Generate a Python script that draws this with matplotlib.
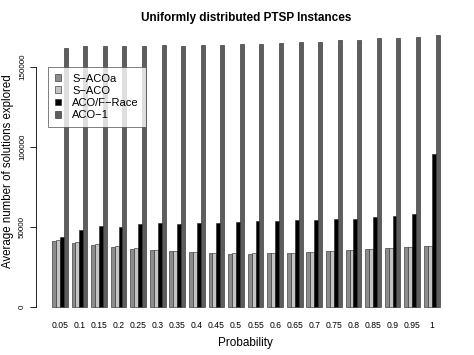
import numpy as np
import matplotlib
matplotlib.use("Agg")
import matplotlib.pyplot as plt
from matplotlib.patches import Patch

plt.rcParams["font.family"] = ["Liberation Sans", "DejaVu Sans"]

# Probability levels (x categories)
probs = ["0.05", "0.1", "0.15", "0.2", "0.25", "0.3", "0.35", "0.4", "0.45", "0.5",
         "0.55", "0.6", "0.65", "0.7", "0.75", "0.8", "0.85", "0.9", "0.95", "1"]

s_acoa = [41200, 40000, 38700, 37500, 36200, 35400, 34600, 34000, 33300, 33100,
          33100, 33300, 33500, 34200, 34800, 35400, 36000, 36700, 37300, 37900]
s_aco = [41500, 40300, 39000, 37800, 36500, 35700, 34900, 34300, 33600, 33400,
         33400, 33600, 33800, 34500, 35100, 35700, 36300, 37000, 37600, 38200]
aco_frace = [43700, 48100, 50200, 50000, 51700, 52100, 51700, 52500, 52500, 52900,
             53800, 53800, 54000, 54400, 54800, 54800, 56200, 56500, 58100, 95600]
aco_1 = [162000, 163300, 163300, 163000, 163300, 163700, 163200, 163500, 163700, 164200,
         164400, 165000, 165400, 165800, 166500, 166700, 167700, 168100, 168900, 169600]

series = [s_acoa, s_aco, aco_frace, aco_1]
names = ["S\u2212ACOa", "S\u2212ACO", "ACO/F\u2212Race", "ACO\u22121"]
colors = ["#8c8c8c", "#c4c4c4", "#000000", "#5e5e5e"]

n = len(probs)
# R barplot(beside=TRUE) layout: 4 bars per group, one bar-width gap
group_start = 1 + 5 * np.arange(n)

fig = plt.figure(figsize=(4.74, 3.55), dpi=100)
ax = fig.add_axes([0.077, 0.1045, 0.883, 0.829])

for k, (vals, col) in enumerate(zip(series, colors)):
    ax.bar(group_start + k, vals, width=1.0, align="edge", color=col,
           edgecolor="#222222", linewidth=0.4)

span = group_start[-1] + 4 - 1
ax.set_xlim(1 - 0.04 * span, 1 + span + 0.04 * span)
ax.set_ylim(-7000, 177000)

for s in ["top", "right", "bottom"]:
    ax.spines[s].set_visible(False)
ax.spines["left"].set_bounds(0, 150000)
ax.spines["left"].set_linewidth(0.6)

ax.set_yticks([0, 50000, 100000, 150000])
ax.set_yticklabels(["0", "50000", "100000", "150000"], rotation=90,
                   va="center", fontsize=5.8)
ax.tick_params(axis="y", length=4, width=0.6, pad=3.5)

ax.set_xticks(group_start + 2)
ax.set_xticklabels(probs, fontsize=6.2)
ax.tick_params(axis="x", length=0, pad=2)

ax.set_xlabel("Probability", fontsize=8.5, labelpad=5)
ax.set_ylabel("Average number of solutions explored", fontsize=8.3, labelpad=4)
ax.set_title("Uniformly distributed PTSP Instances", fontsize=8.5,
             fontweight="bold", pad=1.5)

handles = [Patch(facecolor=c, edgecolor="#222222", linewidth=0.4) for c in colors]
leg = ax.legend(handles, names, loc="upper left", bbox_to_anchor=(0.0275, 0.853),
                fontsize=8, frameon=True, fancybox=False, edgecolor="#444444",
                handlelength=0.55, handleheight=0.55, handletextpad=1.05,
                borderpad=0.6, labelspacing=0.2, borderaxespad=0)
leg.get_frame().set_linewidth(0.6)

fig.savefig("out.png", dpi=100)
